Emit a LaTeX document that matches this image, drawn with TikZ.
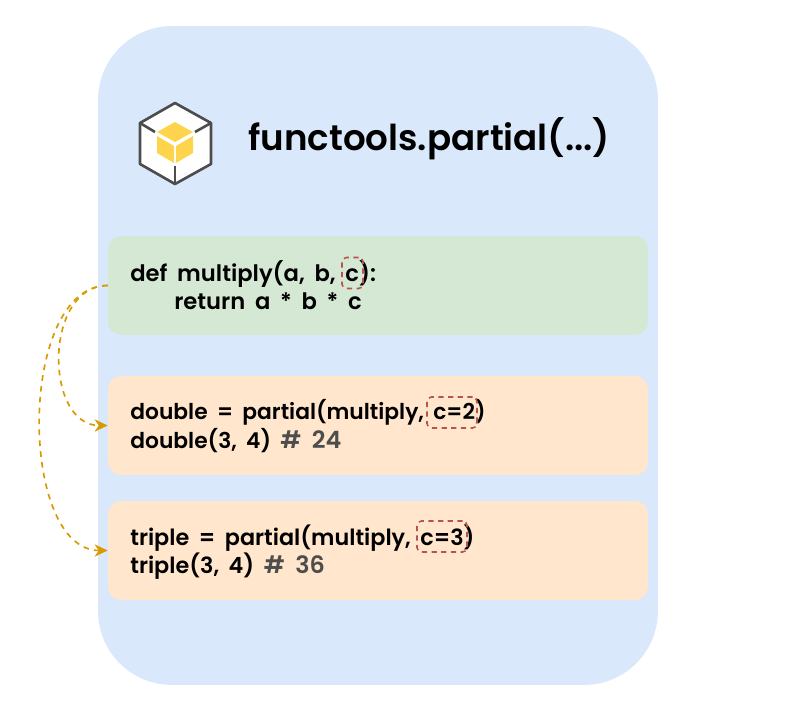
\documentclass[tikz,border=0pt]{standalone}
\usepackage{fontspec}
\setmainfont{Poppins}[BoldFont={Poppins SemiBold}, WordSpace=1.8]
\usetikzlibrary{arrows.meta}

\definecolor{panelblue}{HTML}{DAE8FC}
\definecolor{defgreen}{HTML}{D5E8D4}
\definecolor{callorange}{HTML}{FFE6CC}
\definecolor{markred}{HTML}{B85450}
\definecolor{linkgold}{HTML}{D79B00}
\definecolor{cubeyellow}{HTML}{FFD44D}
\definecolor{cubegray}{HTML}{4D4D4D}

\newcommand{\codecomment}[1]{\textcolor{cubegray}{\fontsize{13.6}{16}\selectfont #1}}

\tikzset{
  codebox/.style={rounded corners=7.5pt, minimum width=540*0.569pt, minimum height=99*0.569pt, inner sep=0pt},
  codetext/.style={anchor=north west, inner sep=0pt, align=left, font=\fontsize{#1}{16}\selectfont\bfseries},
  markbox/.style={draw=markred, line width=0.9pt, dash pattern=on 3pt off 2.5pt, rounded corners=2.5pt, inner sep=0pt, minimum height=31*0.569pt},
  link/.style={draw=linkgold, line width=0.95pt, dash pattern=on 3.2pt off 3pt, -{Stealth[length=7.5pt,width=7pt]}},
  cubeline/.style={cubegray, line width=1.5pt},
}

\begin{document}
\begin{tikzpicture}[x=0.02cm, y=-0.02cm]
\useasboundingbox (0, 0) rectangle (799, 701);

% panel
\node[fill=panelblue, rounded corners=42pt, minimum width=560*0.569pt, minimum height=659*0.569pt, inner sep=0pt] (panel) at (378, 355.5) {};

% cube icon
\draw[cubeline, fill=white, line join=round] (175, 103) -- (211, 123) -- (211, 164) -- (175, 184) -- (140, 164) -- (140, 123) -- cycle;
\draw[cubeline] (140, 123) -- (155, 132);
\draw[cubeline] (211, 123) -- (195, 132);
\draw[cubeline] (175, 184) -- (175, 166);
\fill[cubeyellow] (175, 122) -- (193, 132) -- (175, 142) -- (157, 132) -- cycle;
\fill[cubeyellow] (157, 136) -- (174, 146) -- (174, 163) -- (157, 153) -- cycle;
\fill[cubeyellow] (176, 146) -- (193, 136) -- (193, 153) -- (176, 163) -- cycle;

% title
\node[anchor=west, inner sep=0pt, font=\fontsize{20.3}{24}\selectfont\bfseries] (title) at (248, 139) {functools.partial(...)};

% code boxes
\node[codebox, fill=defgreen] (defbox) at (378, 285.5) {};
\node[codebox, fill=callorange] (doublebox) at (378, 425.5) {};
\node[codebox, fill=callorange] (triplebox) at (378, 550.5) {};

\node[codetext=12.9] (deftext) at (130, 260) {def multiply(a, b, c):\\\hspace{25pt}return a * b * c};
\node[codetext=12.4] (doubletext) at (130, 399.5) {double = partial(multiply, c=2)\\double(3, 4) \codecomment{\# 24}};
\node[codetext=12.7] (tripletext) at (130, 524.5) {triple = partial(multiply, c=3)\\triple(3, 4) \codecomment{\# 36}};

% marks around the arguments
\node[markbox, minimum width=21*0.569pt] (markc) at (352.5, 273) {};
\node[markbox, minimum width=50*0.569pt] (marktwo) at (452, 412.5) {};
\node[markbox, minimum width=50*0.569pt] (markthree) at (442, 536.5) {};

% links
\path[link] (defbox.west) .. controls +(-64, 0) and +(-64, 0) .. (doublebox.west);
\path[link] (defbox.west) .. controls +(-90, 0) and +(-90, 0) .. (triplebox.west);

\end{tikzpicture}
\end{document}
